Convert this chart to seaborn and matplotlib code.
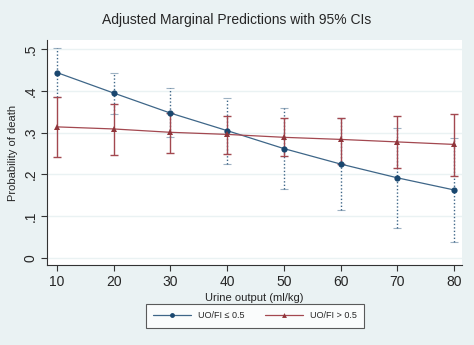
import numpy as np
import pandas as pd
import matplotlib
matplotlib.use("Agg")
import matplotlib.pyplot as plt
import seaborn as sns
from matplotlib.lines import Line2D

urine = [10, 20, 30, 40, 50, 60, 70, 80]
low_pred = [0.444, 0.395, 0.347, 0.305, 0.262, 0.225, 0.192, 0.163]
low_lo = [0.386, 0.346, 0.289, 0.226, 0.165, 0.114, 0.071, 0.038]
low_hi = [0.504, 0.443, 0.406, 0.382, 0.359, 0.336, 0.312, 0.288]
high_pred = [0.314, 0.309, 0.301, 0.296, 0.289, 0.284, 0.278, 0.272]
high_lo = [0.241, 0.247, 0.252, 0.250, 0.244, 0.225, 0.215, 0.197]
high_hi = [0.386, 0.368, 0.348, 0.340, 0.336, 0.336, 0.340, 0.346]
group_labels = ["UO/FI \u2264 0.5", "UO/FI > 0.5"]
yticks = [0, 0.1, 0.2, 0.3, 0.4, 0.5]
ytick_labels = ["0", ".1", ".2", ".3", ".4", ".5"]

BG = "#EAF2F3"
BLUE = "#1A476F"
RED = "#90353B"
BLUE_LINE = "#3E6688"
RED_LINE = "#A34850"

df = pd.DataFrame({
    "x": urine * 2,
    "y": low_pred + high_pred,
    "lo": low_lo + high_lo,
    "hi": low_hi + high_hi,
    "group": [group_labels[0]] * 8 + [group_labels[1]] * 8,
})

sns.set_style("white")
plt.rcParams['font.family'] = ['Liberation Sans', 'DejaVu Sans']

fig = plt.figure(figsize=(4.74, 3.45), dpi=100, facecolor=BG)
ax = fig.add_axes([47/474, 1 - 265/345, (462-47)/474, (265-40)/345])
ax.set_facecolor("white")

# CIs
d0 = df[df.group == group_labels[0]]
d1 = df[df.group == group_labels[1]]
eb0 = ax.errorbar(d0.x, d0.y, yerr=[d0.y - d0.lo, d0.hi - d0.y], fmt="none",
                  ecolor=BLUE_LINE, elinewidth=1.0, capsize=3, capthick=0.8, zorder=2)
for lc in eb0[2]:
    lc.set_linestyle((0, (1, 1.5)))
for cap in eb0[1]:
    cap.set_alpha(0.5)
eb1 = ax.errorbar(d1.x, d1.y, yerr=[d1.y - d1.lo, d1.hi - d1.y], fmt="none",
                  ecolor=RED_LINE, elinewidth=1.0, capsize=3, capthick=1.0, zorder=2)

palette = {group_labels[0]: BLUE_LINE, group_labels[1]: RED_LINE}
markers = {group_labels[0]: "o", group_labels[1]: "^"}
sns.lineplot(data=df, x="x", y="y", hue="group", style="group", palette=palette,
             markers=markers, dashes=False, markersize=4.5, linewidth=0.9,
             markeredgewidth=0, ax=ax, legend=False, zorder=3)
lines = ax.get_lines()
for l in lines:
    c = l.get_color()
    if c == BLUE_LINE:
        l.set_markerfacecolor(BLUE)
    elif c == RED_LINE:
        l.set_markerfacecolor(RED)

ax.set_xlim(8.24, 81.4)
ax.set_ylim(-0.0167, 0.522)
ax.set_xticks(urine)
ax.set_xticklabels([str(u) for u in urine], fontsize=10)
ax.set_yticks(yticks)
ax.set_yticklabels(ytick_labels, fontsize=10, rotation=90, va="center")
ax.yaxis.grid(True, color=BG, linewidth=1.0)
ax.xaxis.grid(False)
ax.set_axisbelow(True)
for s in ["top", "right"]:
    ax.spines[s].set_visible(False)
for s in ["left", "bottom"]:
    ax.spines[s].set_color("#333333")
    ax.spines[s].set_linewidth(0.8)
ax.tick_params(axis="both", direction="out", length=4, width=0.8, color="#333333", bottom=True, left=True, pad=3)
ax.set_xlabel("Urine output (ml/kg)", fontsize=8, labelpad=3)
ax.set_ylabel("Probability of death", fontsize=8, labelpad=4)

fig.text(0.5, 1 - 20/345, "Adjusted Marginal Predictions with 95% CIs", ha="center", va="center", fontsize=10)

handles = [
    Line2D([0], [0], color=BLUE_LINE, marker="o", markersize=3.5, markerfacecolor=BLUE, markeredgewidth=0, linewidth=0.9),
    Line2D([0], [0], color=RED_LINE, marker="^", markersize=3.5, markerfacecolor=RED, markeredgewidth=0, linewidth=0.9),
]
leg = fig.legend(handles, group_labels, loc="center", bbox_to_anchor=(255/474, 1 - 316/345),
                 ncol=2, fontsize=6.5, frameon=True, fancybox=False, handlelength=4.2,
                 columnspacing=2.2, borderpad=0.8, edgecolor="#333333")
leg.get_frame().set_linewidth(0.8)
leg.get_frame().set_facecolor("white")

fig.savefig("out.png", dpi=100, facecolor=BG)
